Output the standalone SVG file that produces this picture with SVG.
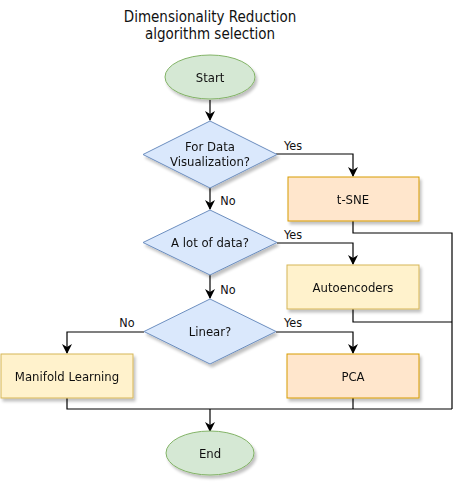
<svg xmlns="http://www.w3.org/2000/svg" width="474" height="489" viewBox="0 0 474 489">
<defs>
<filter id="sh" x="-20%" y="-20%" width="150%" height="150%">
<feGaussianBlur in="SourceAlpha" stdDeviation="1.5"/>
<feOffset dx="2" dy="3" result="b"/>
<feComponentTransfer><feFuncA type="linear" slope="0.25"/></feComponentTransfer>
<feMerge><feMergeNode/><feMergeNode in="SourceGraphic"/></feMerge>
</filter>
<marker id="arr" viewBox="0 0 10 10" refX="9" refY="5" markerWidth="10" markerHeight="10" markerUnits="userSpaceOnUse" orient="auto">
<path d="M0,0 L10,5 L0,10 L3,5 Z" fill="#000"/>
</marker>
</defs>
<style>
text{font-family:"DejaVu Sans Condensed","DejaVu Sans",sans-serif;font-size:13px;fill:#111;text-anchor:middle}
.t{font-size:15px}
.term{fill:#d5e8d4;stroke:#82b366;stroke-width:1}
.dec{fill:#dae8fc;stroke:#6c8ebf;stroke-width:1}
.or{fill:#ffe6cc;stroke:#d79b00;stroke-width:1}
.ye{fill:#fff2cc;stroke:#d6b656;stroke-width:1}
.c path{fill:none;stroke:#000;stroke-width:1.2}
.lbl{font-size:12.5px}
</style>
<g id="title"><text class="t" x="210" y="22">Dimensionality Reduction</text><text class="t" x="210" y="39">algorithm selection</text></g>
<g class="c" id="connectors">
<path d="M210,100 V120" marker-end="url(#arr)"/>
<path d="M276,154 H353 V176" marker-end="url(#arr)"/>
<path d="M210,188 V209" marker-end="url(#arr)"/>
<path d="M353,221 V233 H452 V409"/>
<path d="M277,243 H353 V264" marker-end="url(#arr)"/>
<path d="M210,275 V298" marker-end="url(#arr)"/>
<path d="M353,309 V322 H452"/>
<path d="M144,332 H67 V353" marker-end="url(#arr)"/>
<path d="M276,332 H353 V353" marker-end="url(#arr)"/>
<path d="M67,398 V409 H452"/>
<path d="M353,398 V409"/>
<path d="M210,409 V431" marker-end="url(#arr)"/>
</g>
<g id="labels">
<text class="lbl" x="293" y="150">Yes</text>
<text class="lbl" x="228" y="205">No</text>
<text class="lbl" x="293" y="239">Yes</text>
<text class="lbl" x="228" y="294">No</text>
<text class="lbl" x="127" y="327">No</text>
<text class="lbl" x="293" y="327">Yes</text>
</g>
<g id="start" filter="url(#sh)"><ellipse class="term" cx="210" cy="77" rx="45" ry="22"/><text x="210" y="82">Start</text></g>
<g id="q1" filter="url(#sh)"><path class="dec" d="M210,121 L277,154.5 L210,188 L143,154.5 Z"/><text x="210" y="151">For Data</text><text x="210" y="166">Visualization?</text></g>
<g id="tsne" filter="url(#sh)"><rect class="or" x="288" y="177" width="131" height="44"/><text x="353" y="204">t-SNE</text></g>
<g id="q2" filter="url(#sh)"><path class="dec" d="M210,210 L277,242.5 L210,275 L143,242.5 Z"/><text x="210" y="247">A lot of data?</text></g>
<g id="auto" filter="url(#sh)"><rect class="ye" x="287" y="265" width="132" height="44"/><text x="353" y="292">Autoencoders</text></g>
<g id="q3" filter="url(#sh)"><path class="dec" d="M210,299 L276,331.5 L210,364 L144,331.5 Z"/><text x="210" y="336">Linear?</text></g>
<g id="manifold" filter="url(#sh)"><rect class="ye" x="1" y="354" width="132" height="44"/><text x="67" y="381">Manifold Learning</text></g>
<g id="pca" filter="url(#sh)"><rect class="or" x="287" y="354" width="132" height="44"/><text x="353" y="381">PCA</text></g>
<g id="end" filter="url(#sh)"><ellipse class="term" cx="210" cy="453" rx="44" ry="22"/><text x="210" y="458">End</text></g>
</svg>
